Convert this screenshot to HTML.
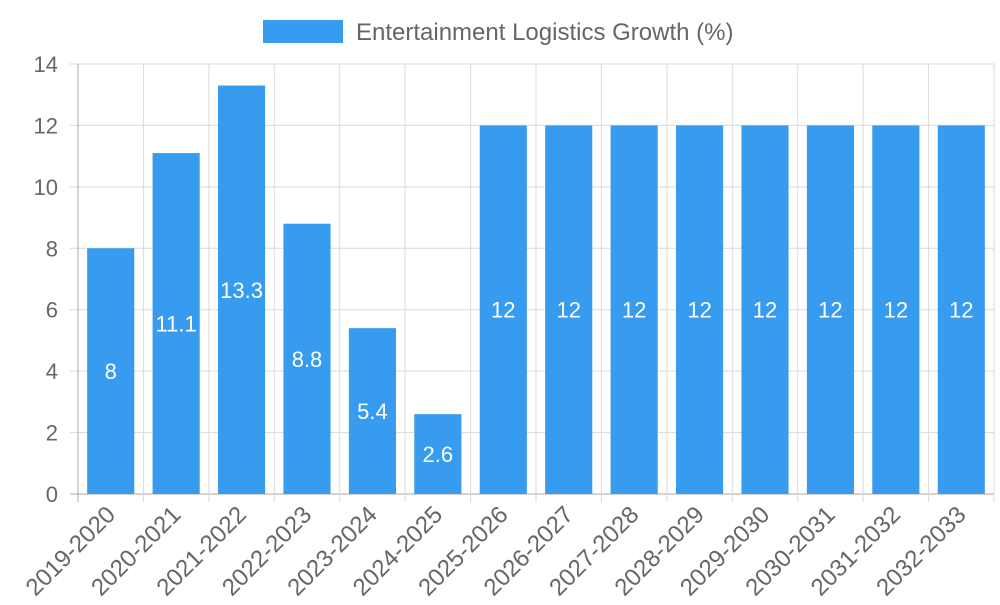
<!DOCTYPE html>
<html><head><meta charset="utf-8"><style>
body{margin:0;background:#fff}
svg text{font-family:"Liberation Sans",sans-serif}
</style></head><body>
<svg id="chart" width="1000" height="600" xmlns="http://www.w3.org/2000/svg">
<g id="legend">
<rect x="263" y="20" width="80" height="23" fill="#379bf0"/>
<text x="356" y="40" font-size="24" fill="#666">Entertainment Logistics Growth (%)</text>
</g>
<g id="grid"></g><g id="bars"></g><g id="labels"></g>
</svg>
<script>
const categories=["2019-2020","2020-2021","2021-2022","2022-2023","2023-2024","2024-2025","2025-2026","2026-2027","2027-2028","2028-2029","2029-2030","2030-2031","2031-2032","2032-2033"];
const values=[8,11.1,13.3,8.8,5.4,2.6,12,12,12,12,12,12,12,12];
const yTicks=[0,2,4,6,8,10,12,14];
const NS="http://www.w3.org/2000/svg";
const L=78,R=994,T=64,B=494,yMax=14;
const band=(R-L)/categories.length;
const y=v=>B-(v/yMax)*(B-T);
const x=i=>L+band*i;
function mk(tag,attrs,parent,text){const e=document.createElementNS(NS,tag);for(const k in attrs)e.setAttribute(k,attrs[k]);if(text!==undefined)e.textContent=text;parent.appendChild(e);return e;}
const grid=document.getElementById('grid'),bars=document.getElementById('bars'),labels=document.getElementById('labels');
yTicks.forEach(t=>{
 const g=mk('line',{x1:L-8,x2:R,y1:y(t),y2:y(t),stroke:t===0?'#aaa':'#d9d9d9','stroke-width':1},grid);
 
 
 const tx=mk('text',{x:L-20,y:y(t)+8,'text-anchor':'end','font-size':22,fill:'#666'},labels,String(t));
 
 
});
for(let i=0;i<=categories.length;i++){
 const g=mk('line',{x1:x(i),x2:x(i),y1:T,y2:B+8,stroke:i===0?'#aaa':'#d9d9d9','stroke-width':1},grid);
 
 
}
categories.forEach((c,i)=>{
 const bw=band*0.72,cx=x(i)+band/2,v=values[i];
 const r=mk('rect',{x:cx-bw/2,y:y(v),width:bw,height:B-y(v),fill:'#379bf0'},bars);
 
 
 const vl=mk('text',{x:cx,y:(y(v)+B)/2+8,'text-anchor':'middle','font-size':22,fill:'#fff'},labels,String(v));
 
 
 const tl=mk('text',{x:cx+6,y:B+22,'text-anchor':'end','font-size':24,fill:'#666',transform:`rotate(-45 ${cx+6} ${B+22})`},labels,c);
 
 
});
</script>
</body></html>
